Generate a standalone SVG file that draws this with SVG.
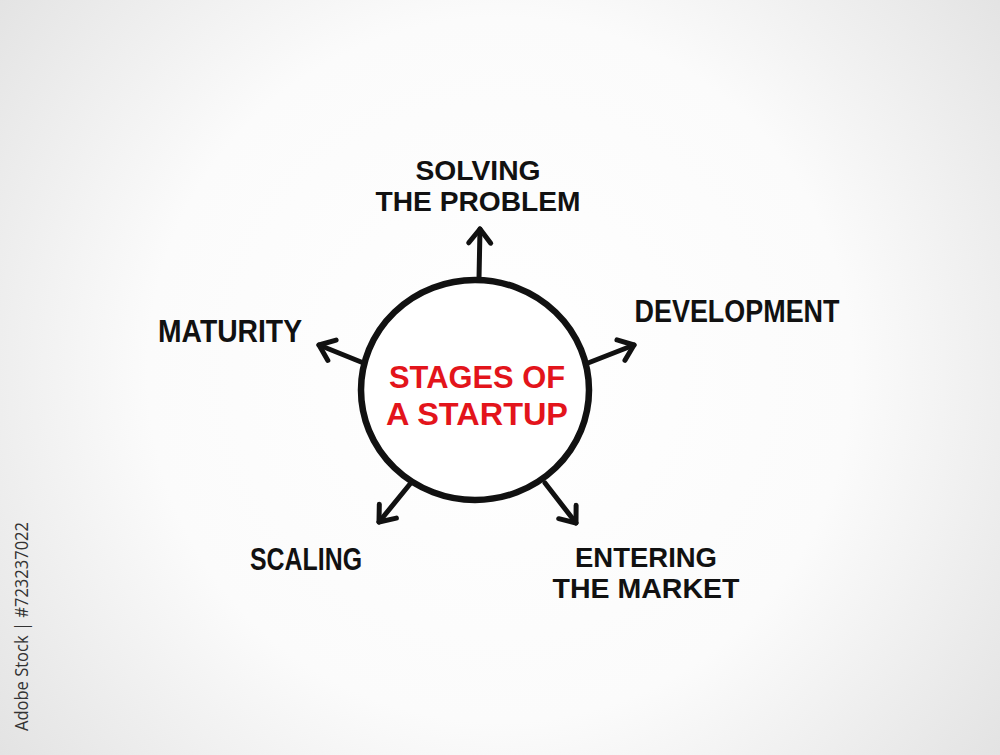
<svg xmlns="http://www.w3.org/2000/svg" width="1000" height="755" viewBox="0 0 1000 755">
<defs>
<radialGradient id="bg" cx="500" cy="370" r="640" gradientUnits="userSpaceOnUse">
<stop offset="0" stop-color="#ffffff"/>
<stop offset="0.55" stop-color="#fbfbfb"/>
<stop offset="1" stop-color="#e2e2e2"/>
</radialGradient>
<marker id="arr" markerUnits="userSpaceOnUse" markerWidth="40" markerHeight="40" viewBox="-20 -20 40 40" refX="0" refY="0" orient="auto" overflow="visible">
<path d="M -14 -11 L 0 0 L -14 11" fill="none" stroke="#111" stroke-width="5" stroke-linecap="round" stroke-linejoin="round"/>
</marker>
<style>
.lbl{font-family:"Liberation Sans","DejaVu Sans",sans-serif;font-weight:bold;font-size:28px;fill:#111;text-anchor:middle}
.big{font-size:31px}
.ctr{font-family:"Liberation Sans","DejaVu Sans",sans-serif;font-weight:bold;font-size:32px;fill:#e3141b;text-anchor:middle}
.con{fill:none;stroke:#111;stroke-width:5;stroke-linecap:round;marker-end:url(#arr)}
.wm{font-family:"Open Sans","DejaVu Sans",sans-serif;font-size:18px;fill:#333}
</style>
</defs>
<rect width="1000" height="755" fill="url(#bg)"/>
<g id="connectors">
<path class="con" d="M 479 279 L 480 229"/>
<path class="con" d="M 588 363 L 634 345"/>
<path class="con" d="M 545 483 L 576 523"/>
<path class="con" d="M 410 484 L 379 522"/>
<path class="con" d="M 366 364 L 319 345"/>
</g>
<g id="center">
<ellipse cx="475" cy="390" rx="114" ry="110" fill="#fff" stroke="#111" stroke-width="6.5"/>
<text class="ctr" x="477" y="388" textLength="176" lengthAdjust="spacingAndGlyphs">STAGES OF</text>
<text class="ctr" x="477" y="425" textLength="182" lengthAdjust="spacingAndGlyphs">A STARTUP</text>
</g>
<g id="solving">
<text class="lbl" x="478" y="180" textLength="125" lengthAdjust="spacingAndGlyphs">SOLVING</text>
<text class="lbl" x="478" y="211" textLength="205" lengthAdjust="spacingAndGlyphs">THE PROBLEM</text>
</g>
<g id="development">
<text class="lbl big" x="737" y="322" textLength="205" lengthAdjust="spacingAndGlyphs">DEVELOPMENT</text>
</g>
<g id="entering">
<text class="lbl" x="646" y="567" textLength="142" lengthAdjust="spacingAndGlyphs">ENTERING</text>
<text class="lbl" x="646" y="598" textLength="187" lengthAdjust="spacingAndGlyphs">THE MARKET</text>
</g>
<g id="scaling">
<text class="lbl big" x="306" y="570" textLength="112" lengthAdjust="spacingAndGlyphs">SCALING</text>
</g>
<g id="maturity">
<text class="lbl big" x="230" y="342" textLength="144" lengthAdjust="spacingAndGlyphs">MATURITY</text>
</g>
<text class="wm" transform="translate(28 731) rotate(-90)" textLength="209" lengthAdjust="spacingAndGlyphs">Adobe Stock | #723237022</text>
</svg>
